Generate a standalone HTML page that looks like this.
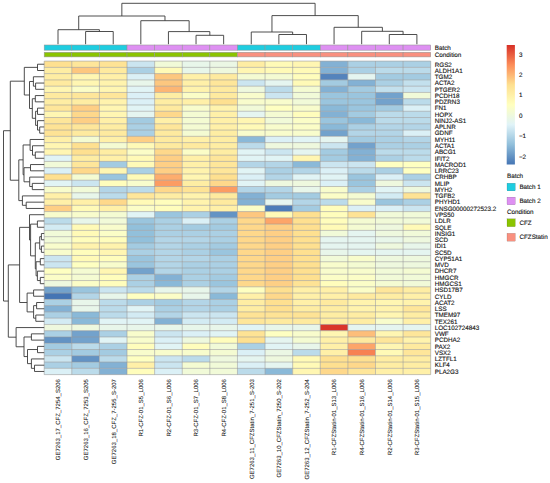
<!DOCTYPE html>
<html><head><meta charset="utf-8"><style>
html,body{margin:0;padding:0;background:#fff;width:550px;height:483px;overflow:hidden}
text{text-rendering:geometricPrecision}

</style></head><body>
<svg width="550" height="483" viewBox="0 0 550 483" style="display:block">
<rect x="44.20" y="61.10" width="27.61" height="6.27" fill="#FEE090"/>
<rect x="71.81" y="61.10" width="27.61" height="6.27" fill="#FEE69A"/>
<rect x="99.41" y="61.10" width="27.61" height="6.27" fill="#FEE395"/>
<rect x="127.02" y="61.10" width="27.61" height="6.27" fill="#CBE5F0"/>
<rect x="154.63" y="61.10" width="27.61" height="6.27" fill="#F1FAD8"/>
<rect x="182.24" y="61.10" width="27.61" height="6.27" fill="#E8F6EA"/>
<rect x="209.84" y="61.10" width="27.61" height="6.27" fill="#EBF7E4"/>
<rect x="237.45" y="61.10" width="27.61" height="6.27" fill="#FEEDA3"/>
<rect x="265.06" y="61.10" width="27.61" height="6.27" fill="#FFFAB7"/>
<rect x="292.66" y="61.10" width="27.61" height="6.27" fill="#FFF6B2"/>
<rect x="320.27" y="61.10" width="27.61" height="6.27" fill="#83B1D4"/>
<rect x="347.88" y="61.10" width="27.61" height="6.27" fill="#ABD0E4"/>
<rect x="375.49" y="61.10" width="27.61" height="6.27" fill="#ABD0E4"/>
<rect x="403.09" y="61.10" width="27.61" height="6.27" fill="#ABD0E4"/>
<rect x="44.20" y="67.37" width="27.61" height="6.27" fill="#FEEDA3"/>
<rect x="71.81" y="67.37" width="27.61" height="6.27" fill="#FDC77F"/>
<rect x="99.41" y="67.37" width="27.61" height="6.27" fill="#FEEA9F"/>
<rect x="127.02" y="67.37" width="27.61" height="6.27" fill="#ABD0E4"/>
<rect x="154.63" y="67.37" width="27.61" height="6.27" fill="#FFFAB7"/>
<rect x="182.24" y="67.37" width="27.61" height="6.27" fill="#E8F6EA"/>
<rect x="209.84" y="67.37" width="27.61" height="6.27" fill="#EEF8DE"/>
<rect x="237.45" y="67.37" width="27.61" height="6.27" fill="#FFF6B2"/>
<rect x="265.06" y="67.37" width="27.61" height="6.27" fill="#FFFAB7"/>
<rect x="292.66" y="67.37" width="27.61" height="6.27" fill="#FFFAB7"/>
<rect x="320.27" y="67.37" width="27.61" height="6.27" fill="#83B1D4"/>
<rect x="347.88" y="67.37" width="27.61" height="6.27" fill="#ABD0E4"/>
<rect x="375.49" y="67.37" width="27.61" height="6.27" fill="#BBDBEA"/>
<rect x="403.09" y="67.37" width="27.61" height="6.27" fill="#BBDBEA"/>
<rect x="44.20" y="73.64" width="27.61" height="6.27" fill="#FEEDA3"/>
<rect x="71.81" y="73.64" width="27.61" height="6.27" fill="#FFF6B2"/>
<rect x="99.41" y="73.64" width="27.61" height="6.27" fill="#FFF0A8"/>
<rect x="127.02" y="73.64" width="27.61" height="6.27" fill="#DBF0F6"/>
<rect x="154.63" y="73.64" width="27.61" height="6.27" fill="#FDC77F"/>
<rect x="182.24" y="73.64" width="27.61" height="6.27" fill="#FFF0A8"/>
<rect x="209.84" y="73.64" width="27.61" height="6.27" fill="#FEEA9F"/>
<rect x="237.45" y="73.64" width="27.61" height="6.27" fill="#F4FBD2"/>
<rect x="265.06" y="73.64" width="27.61" height="6.27" fill="#F4FBD2"/>
<rect x="292.66" y="73.64" width="27.61" height="6.27" fill="#FFFDBC"/>
<rect x="320.27" y="73.64" width="27.61" height="6.27" fill="#5483BC"/>
<rect x="347.88" y="73.64" width="27.61" height="6.27" fill="#E5F5F0"/>
<rect x="375.49" y="73.64" width="27.61" height="6.27" fill="#A3CBE1"/>
<rect x="403.09" y="73.64" width="27.61" height="6.27" fill="#A3CBE1"/>
<rect x="44.20" y="79.91" width="27.61" height="6.27" fill="#FEEA9F"/>
<rect x="71.81" y="79.91" width="27.61" height="6.27" fill="#FFF6B2"/>
<rect x="99.41" y="79.91" width="27.61" height="6.27" fill="#FFF3AD"/>
<rect x="127.02" y="79.91" width="27.61" height="6.27" fill="#E8F6EA"/>
<rect x="154.63" y="79.91" width="27.61" height="6.27" fill="#FDC77F"/>
<rect x="182.24" y="79.91" width="27.61" height="6.27" fill="#FFF0A8"/>
<rect x="209.84" y="79.91" width="27.61" height="6.27" fill="#FEE69A"/>
<rect x="237.45" y="79.91" width="27.61" height="6.27" fill="#CBE5F0"/>
<rect x="265.06" y="79.91" width="27.61" height="6.27" fill="#E5F5F0"/>
<rect x="292.66" y="79.91" width="27.61" height="6.27" fill="#FFFAB7"/>
<rect x="320.27" y="79.91" width="27.61" height="6.27" fill="#A3CBE1"/>
<rect x="347.88" y="79.91" width="27.61" height="6.27" fill="#83B1D4"/>
<rect x="375.49" y="79.91" width="27.61" height="6.27" fill="#ABD0E4"/>
<rect x="403.09" y="79.91" width="27.61" height="6.27" fill="#C3E0ED"/>
<rect x="44.20" y="86.18" width="27.61" height="6.27" fill="#FFF6B2"/>
<rect x="71.81" y="86.18" width="27.61" height="6.27" fill="#FBFDC7"/>
<rect x="99.41" y="86.18" width="27.61" height="6.27" fill="#FFF6B2"/>
<rect x="127.02" y="86.18" width="27.61" height="6.27" fill="#E1F4F5"/>
<rect x="154.63" y="86.18" width="27.61" height="6.27" fill="#FDB674"/>
<rect x="182.24" y="86.18" width="27.61" height="6.27" fill="#FFF3AD"/>
<rect x="209.84" y="86.18" width="27.61" height="6.27" fill="#FEEA9F"/>
<rect x="237.45" y="86.18" width="27.61" height="6.27" fill="#EEF8DE"/>
<rect x="265.06" y="86.18" width="27.61" height="6.27" fill="#BBDBEA"/>
<rect x="292.66" y="86.18" width="27.61" height="6.27" fill="#F4FBD2"/>
<rect x="320.27" y="86.18" width="27.61" height="6.27" fill="#83B1D4"/>
<rect x="347.88" y="86.18" width="27.61" height="6.27" fill="#A3CBE1"/>
<rect x="375.49" y="86.18" width="27.61" height="6.27" fill="#C3E0ED"/>
<rect x="403.09" y="86.18" width="27.61" height="6.27" fill="#CBE5F0"/>
<rect x="44.20" y="92.45" width="27.61" height="6.27" fill="#FEEA9F"/>
<rect x="71.81" y="92.45" width="27.61" height="6.27" fill="#FEE69A"/>
<rect x="99.41" y="92.45" width="27.61" height="6.27" fill="#FEE69A"/>
<rect x="127.02" y="92.45" width="27.61" height="6.27" fill="#DBF0F6"/>
<rect x="154.63" y="92.45" width="27.61" height="6.27" fill="#FEEDA3"/>
<rect x="182.24" y="92.45" width="27.61" height="6.27" fill="#FBFDC7"/>
<rect x="209.84" y="92.45" width="27.61" height="6.27" fill="#FEEA9F"/>
<rect x="237.45" y="92.45" width="27.61" height="6.27" fill="#F8FCCC"/>
<rect x="265.06" y="92.45" width="27.61" height="6.27" fill="#CBE5F0"/>
<rect x="292.66" y="92.45" width="27.61" height="6.27" fill="#F1FAD8"/>
<rect x="320.27" y="92.45" width="27.61" height="6.27" fill="#9AC5DE"/>
<rect x="347.88" y="92.45" width="27.61" height="6.27" fill="#9AC5DE"/>
<rect x="375.49" y="92.45" width="27.61" height="6.27" fill="#73A2CC"/>
<rect x="403.09" y="92.45" width="27.61" height="6.27" fill="#F1FAD8"/>
<rect x="44.20" y="98.72" width="27.61" height="6.27" fill="#FEEDA3"/>
<rect x="71.81" y="98.72" width="27.61" height="6.27" fill="#FEEDA3"/>
<rect x="99.41" y="98.72" width="27.61" height="6.27" fill="#FFF3AD"/>
<rect x="127.02" y="98.72" width="27.61" height="6.27" fill="#DBF0F6"/>
<rect x="154.63" y="98.72" width="27.61" height="6.27" fill="#FEEDA3"/>
<rect x="182.24" y="98.72" width="27.61" height="6.27" fill="#FFF0A8"/>
<rect x="209.84" y="98.72" width="27.61" height="6.27" fill="#FEE090"/>
<rect x="237.45" y="98.72" width="27.61" height="6.27" fill="#F8FCCC"/>
<rect x="265.06" y="98.72" width="27.61" height="6.27" fill="#F8FCCC"/>
<rect x="292.66" y="98.72" width="27.61" height="6.27" fill="#F1FAD8"/>
<rect x="320.27" y="98.72" width="27.61" height="6.27" fill="#9AC5DE"/>
<rect x="347.88" y="98.72" width="27.61" height="6.27" fill="#9AC5DE"/>
<rect x="375.49" y="98.72" width="27.61" height="6.27" fill="#73A2CC"/>
<rect x="403.09" y="98.72" width="27.61" height="6.27" fill="#BBDBEA"/>
<rect x="44.20" y="104.99" width="27.61" height="6.27" fill="#FEE69A"/>
<rect x="71.81" y="104.99" width="27.61" height="6.27" fill="#FECF85"/>
<rect x="99.41" y="104.99" width="27.61" height="6.27" fill="#FFF6B2"/>
<rect x="127.02" y="104.99" width="27.61" height="6.27" fill="#E1F4F5"/>
<rect x="154.63" y="104.99" width="27.61" height="6.27" fill="#FEEA9F"/>
<rect x="182.24" y="104.99" width="27.61" height="6.27" fill="#F8FCCC"/>
<rect x="209.84" y="104.99" width="27.61" height="6.27" fill="#FFF3AD"/>
<rect x="237.45" y="104.99" width="27.61" height="6.27" fill="#F1FAD8"/>
<rect x="265.06" y="104.99" width="27.61" height="6.27" fill="#FEFFC1"/>
<rect x="292.66" y="104.99" width="27.61" height="6.27" fill="#F8FCCC"/>
<rect x="320.27" y="104.99" width="27.61" height="6.27" fill="#8AB9D8"/>
<rect x="347.88" y="104.99" width="27.61" height="6.27" fill="#9AC5DE"/>
<rect x="375.49" y="104.99" width="27.61" height="6.27" fill="#A3CBE1"/>
<rect x="403.09" y="104.99" width="27.61" height="6.27" fill="#DBF0F6"/>
<rect x="44.20" y="111.26" width="27.61" height="6.27" fill="#FFF6B2"/>
<rect x="71.81" y="111.26" width="27.61" height="6.27" fill="#FED88B"/>
<rect x="99.41" y="111.26" width="27.61" height="6.27" fill="#FFF6B2"/>
<rect x="127.02" y="111.26" width="27.61" height="6.27" fill="#E5F5F0"/>
<rect x="154.63" y="111.26" width="27.61" height="6.27" fill="#FED88B"/>
<rect x="182.24" y="111.26" width="27.61" height="6.27" fill="#F4FBD2"/>
<rect x="209.84" y="111.26" width="27.61" height="6.27" fill="#FFF0A8"/>
<rect x="237.45" y="111.26" width="27.61" height="6.27" fill="#E5F5F0"/>
<rect x="265.06" y="111.26" width="27.61" height="6.27" fill="#F4FBD2"/>
<rect x="292.66" y="111.26" width="27.61" height="6.27" fill="#FFFDBC"/>
<rect x="320.27" y="111.26" width="27.61" height="6.27" fill="#83B1D4"/>
<rect x="347.88" y="111.26" width="27.61" height="6.27" fill="#A3CBE1"/>
<rect x="375.49" y="111.26" width="27.61" height="6.27" fill="#BBDBEA"/>
<rect x="403.09" y="111.26" width="27.61" height="6.27" fill="#BBDBEA"/>
<rect x="44.20" y="117.53" width="27.61" height="6.27" fill="#FEE69A"/>
<rect x="71.81" y="117.53" width="27.61" height="6.27" fill="#FECF85"/>
<rect x="99.41" y="117.53" width="27.61" height="6.27" fill="#FFF0A8"/>
<rect x="127.02" y="117.53" width="27.61" height="6.27" fill="#A3CBE1"/>
<rect x="154.63" y="117.53" width="27.61" height="6.27" fill="#FFF0A8"/>
<rect x="182.24" y="117.53" width="27.61" height="6.27" fill="#F4FBD2"/>
<rect x="209.84" y="117.53" width="27.61" height="6.27" fill="#FFF0A8"/>
<rect x="237.45" y="117.53" width="27.61" height="6.27" fill="#FFF6B2"/>
<rect x="265.06" y="117.53" width="27.61" height="6.27" fill="#F1FAD8"/>
<rect x="292.66" y="117.53" width="27.61" height="6.27" fill="#FBFDC7"/>
<rect x="320.27" y="117.53" width="27.61" height="6.27" fill="#9AC5DE"/>
<rect x="347.88" y="117.53" width="27.61" height="6.27" fill="#8AB9D8"/>
<rect x="375.49" y="117.53" width="27.61" height="6.27" fill="#BBDBEA"/>
<rect x="403.09" y="117.53" width="27.61" height="6.27" fill="#BBDBEA"/>
<rect x="44.20" y="123.80" width="27.61" height="6.27" fill="#FEE395"/>
<rect x="71.81" y="123.80" width="27.61" height="6.27" fill="#FEE69A"/>
<rect x="99.41" y="123.80" width="27.61" height="6.27" fill="#FEEDA3"/>
<rect x="127.02" y="123.80" width="27.61" height="6.27" fill="#ABD0E4"/>
<rect x="154.63" y="123.80" width="27.61" height="6.27" fill="#FEE69A"/>
<rect x="182.24" y="123.80" width="27.61" height="6.27" fill="#F4FBD2"/>
<rect x="209.84" y="123.80" width="27.61" height="6.27" fill="#FFF0A8"/>
<rect x="237.45" y="123.80" width="27.61" height="6.27" fill="#FFFAB7"/>
<rect x="265.06" y="123.80" width="27.61" height="6.27" fill="#F8FCCC"/>
<rect x="292.66" y="123.80" width="27.61" height="6.27" fill="#FBFDC7"/>
<rect x="320.27" y="123.80" width="27.61" height="6.27" fill="#8AB9D8"/>
<rect x="347.88" y="123.80" width="27.61" height="6.27" fill="#ABD0E4"/>
<rect x="375.49" y="123.80" width="27.61" height="6.27" fill="#B3D5E7"/>
<rect x="403.09" y="123.80" width="27.61" height="6.27" fill="#B3D5E7"/>
<rect x="44.20" y="130.07" width="27.61" height="6.27" fill="#FEE395"/>
<rect x="71.81" y="130.07" width="27.61" height="6.27" fill="#FEEA9F"/>
<rect x="99.41" y="130.07" width="27.61" height="6.27" fill="#FEEA9F"/>
<rect x="127.02" y="130.07" width="27.61" height="6.27" fill="#ABD0E4"/>
<rect x="154.63" y="130.07" width="27.61" height="6.27" fill="#FEEA9F"/>
<rect x="182.24" y="130.07" width="27.61" height="6.27" fill="#F4FBD2"/>
<rect x="209.84" y="130.07" width="27.61" height="6.27" fill="#FEEDA3"/>
<rect x="237.45" y="130.07" width="27.61" height="6.27" fill="#F8FCCC"/>
<rect x="265.06" y="130.07" width="27.61" height="6.27" fill="#F8FCCC"/>
<rect x="292.66" y="130.07" width="27.61" height="6.27" fill="#F8FCCC"/>
<rect x="320.27" y="130.07" width="27.61" height="6.27" fill="#73A2CC"/>
<rect x="347.88" y="130.07" width="27.61" height="6.27" fill="#B3D5E7"/>
<rect x="375.49" y="130.07" width="27.61" height="6.27" fill="#B3D5E7"/>
<rect x="403.09" y="130.07" width="27.61" height="6.27" fill="#DBF0F6"/>
<rect x="44.20" y="136.34" width="27.61" height="6.27" fill="#FFF0A8"/>
<rect x="71.81" y="136.34" width="27.61" height="6.27" fill="#F4FBD2"/>
<rect x="99.41" y="136.34" width="27.61" height="6.27" fill="#FFF0A8"/>
<rect x="127.02" y="136.34" width="27.61" height="6.27" fill="#FECF85"/>
<rect x="154.63" y="136.34" width="27.61" height="6.27" fill="#FEEA9F"/>
<rect x="182.24" y="136.34" width="27.61" height="6.27" fill="#FFF0A8"/>
<rect x="209.84" y="136.34" width="27.61" height="6.27" fill="#FEEDA3"/>
<rect x="237.45" y="136.34" width="27.61" height="6.27" fill="#8AB9D8"/>
<rect x="265.06" y="136.34" width="27.61" height="6.27" fill="#DBF0F6"/>
<rect x="292.66" y="136.34" width="27.61" height="6.27" fill="#E1F4F5"/>
<rect x="320.27" y="136.34" width="27.61" height="6.27" fill="#E5F5F0"/>
<rect x="347.88" y="136.34" width="27.61" height="6.27" fill="#A3CBE1"/>
<rect x="375.49" y="136.34" width="27.61" height="6.27" fill="#ABD0E4"/>
<rect x="403.09" y="136.34" width="27.61" height="6.27" fill="#B3D5E7"/>
<rect x="44.20" y="142.61" width="27.61" height="6.27" fill="#FFF6B2"/>
<rect x="71.81" y="142.61" width="27.61" height="6.27" fill="#FEE090"/>
<rect x="99.41" y="142.61" width="27.61" height="6.27" fill="#F4FBD2"/>
<rect x="127.02" y="142.61" width="27.61" height="6.27" fill="#FFFAB7"/>
<rect x="154.63" y="142.61" width="27.61" height="6.27" fill="#FEEA9F"/>
<rect x="182.24" y="142.61" width="27.61" height="6.27" fill="#FEEA9F"/>
<rect x="209.84" y="142.61" width="27.61" height="6.27" fill="#FEEDA3"/>
<rect x="237.45" y="142.61" width="27.61" height="6.27" fill="#BBDBEA"/>
<rect x="265.06" y="142.61" width="27.61" height="6.27" fill="#EEF8DE"/>
<rect x="292.66" y="142.61" width="27.61" height="6.27" fill="#EEF8DE"/>
<rect x="320.27" y="142.61" width="27.61" height="6.27" fill="#CBE5F0"/>
<rect x="347.88" y="142.61" width="27.61" height="6.27" fill="#73A2CC"/>
<rect x="375.49" y="142.61" width="27.61" height="6.27" fill="#ABD0E4"/>
<rect x="403.09" y="142.61" width="27.61" height="6.27" fill="#ABD0E4"/>
<rect x="44.20" y="148.88" width="27.61" height="6.27" fill="#FFF6B2"/>
<rect x="71.81" y="148.88" width="27.61" height="6.27" fill="#FEE090"/>
<rect x="99.41" y="148.88" width="27.61" height="6.27" fill="#FEEDA3"/>
<rect x="127.02" y="148.88" width="27.61" height="6.27" fill="#FBFDC7"/>
<rect x="154.63" y="148.88" width="27.61" height="6.27" fill="#FED88B"/>
<rect x="182.24" y="148.88" width="27.61" height="6.27" fill="#FBFDC7"/>
<rect x="209.84" y="148.88" width="27.61" height="6.27" fill="#FEEDA3"/>
<rect x="237.45" y="148.88" width="27.61" height="6.27" fill="#E1F4F5"/>
<rect x="265.06" y="148.88" width="27.61" height="6.27" fill="#CBE5F0"/>
<rect x="292.66" y="148.88" width="27.61" height="6.27" fill="#E5F5F0"/>
<rect x="320.27" y="148.88" width="27.61" height="6.27" fill="#A3CBE1"/>
<rect x="347.88" y="148.88" width="27.61" height="6.27" fill="#83B1D4"/>
<rect x="375.49" y="148.88" width="27.61" height="6.27" fill="#BBDBEA"/>
<rect x="403.09" y="148.88" width="27.61" height="6.27" fill="#BBDBEA"/>
<rect x="44.20" y="155.15" width="27.61" height="6.27" fill="#E1F4F5"/>
<rect x="71.81" y="155.15" width="27.61" height="6.27" fill="#FEEDA3"/>
<rect x="99.41" y="155.15" width="27.61" height="6.27" fill="#FFF0A8"/>
<rect x="127.02" y="155.15" width="27.61" height="6.27" fill="#FFFAB7"/>
<rect x="154.63" y="155.15" width="27.61" height="6.27" fill="#FECF85"/>
<rect x="182.24" y="155.15" width="27.61" height="6.27" fill="#FFF0A8"/>
<rect x="209.84" y="155.15" width="27.61" height="6.27" fill="#FEE69A"/>
<rect x="237.45" y="155.15" width="27.61" height="6.27" fill="#E1F4F5"/>
<rect x="265.06" y="155.15" width="27.61" height="6.27" fill="#E1F4F5"/>
<rect x="292.66" y="155.15" width="27.61" height="6.27" fill="#FFF6B2"/>
<rect x="320.27" y="155.15" width="27.61" height="6.27" fill="#A3CBE1"/>
<rect x="347.88" y="155.15" width="27.61" height="6.27" fill="#83B1D4"/>
<rect x="375.49" y="155.15" width="27.61" height="6.27" fill="#ABD0E4"/>
<rect x="403.09" y="155.15" width="27.61" height="6.27" fill="#BBDBEA"/>
<rect x="44.20" y="161.42" width="27.61" height="6.27" fill="#F1FAD8"/>
<rect x="71.81" y="161.42" width="27.61" height="6.27" fill="#FEE69A"/>
<rect x="99.41" y="161.42" width="27.61" height="6.27" fill="#A3CBE1"/>
<rect x="127.02" y="161.42" width="27.61" height="6.27" fill="#FFFAB7"/>
<rect x="154.63" y="161.42" width="27.61" height="6.27" fill="#FECF85"/>
<rect x="182.24" y="161.42" width="27.61" height="6.27" fill="#FFF0A8"/>
<rect x="209.84" y="161.42" width="27.61" height="6.27" fill="#FEE69A"/>
<rect x="237.45" y="161.42" width="27.61" height="6.27" fill="#B3D5E7"/>
<rect x="265.06" y="161.42" width="27.61" height="6.27" fill="#B3D5E7"/>
<rect x="292.66" y="161.42" width="27.61" height="6.27" fill="#8AB9D8"/>
<rect x="320.27" y="161.42" width="27.61" height="6.27" fill="#CBE5F0"/>
<rect x="347.88" y="161.42" width="27.61" height="6.27" fill="#CBE5F0"/>
<rect x="375.49" y="161.42" width="27.61" height="6.27" fill="#FEFFC1"/>
<rect x="403.09" y="161.42" width="27.61" height="6.27" fill="#FEFFC1"/>
<rect x="44.20" y="167.69" width="27.61" height="6.27" fill="#DBF0F6"/>
<rect x="71.81" y="167.69" width="27.61" height="6.27" fill="#FED88B"/>
<rect x="99.41" y="167.69" width="27.61" height="6.27" fill="#FFF6B2"/>
<rect x="127.02" y="167.69" width="27.61" height="6.27" fill="#ABD0E4"/>
<rect x="154.63" y="167.69" width="27.61" height="6.27" fill="#FECF85"/>
<rect x="182.24" y="167.69" width="27.61" height="6.27" fill="#FFF3AD"/>
<rect x="209.84" y="167.69" width="27.61" height="6.27" fill="#FEE69A"/>
<rect x="237.45" y="167.69" width="27.61" height="6.27" fill="#E1F4F5"/>
<rect x="265.06" y="167.69" width="27.61" height="6.27" fill="#ABD0E4"/>
<rect x="292.66" y="167.69" width="27.61" height="6.27" fill="#B3D5E7"/>
<rect x="320.27" y="167.69" width="27.61" height="6.27" fill="#DBF0F6"/>
<rect x="347.88" y="167.69" width="27.61" height="6.27" fill="#BBDBEA"/>
<rect x="375.49" y="167.69" width="27.61" height="6.27" fill="#ABD0E4"/>
<rect x="403.09" y="167.69" width="27.61" height="6.27" fill="#FEFFC1"/>
<rect x="44.20" y="173.96" width="27.61" height="6.27" fill="#FEE090"/>
<rect x="71.81" y="173.96" width="27.61" height="6.27" fill="#F4FBD2"/>
<rect x="99.41" y="173.96" width="27.61" height="6.27" fill="#9AC5DE"/>
<rect x="127.02" y="173.96" width="27.61" height="6.27" fill="#FFFAB7"/>
<rect x="154.63" y="173.96" width="27.61" height="6.27" fill="#FDAD6E"/>
<rect x="182.24" y="173.96" width="27.61" height="6.27" fill="#FFF6B2"/>
<rect x="209.84" y="173.96" width="27.61" height="6.27" fill="#FEE090"/>
<rect x="237.45" y="173.96" width="27.61" height="6.27" fill="#DBF0F6"/>
<rect x="265.06" y="173.96" width="27.61" height="6.27" fill="#B3D5E7"/>
<rect x="292.66" y="173.96" width="27.61" height="6.27" fill="#E1F4F5"/>
<rect x="320.27" y="173.96" width="27.61" height="6.27" fill="#E1F4F5"/>
<rect x="347.88" y="173.96" width="27.61" height="6.27" fill="#9AC5DE"/>
<rect x="375.49" y="173.96" width="27.61" height="6.27" fill="#DBF0F6"/>
<rect x="403.09" y="173.96" width="27.61" height="6.27" fill="#ABD0E4"/>
<rect x="44.20" y="180.23" width="27.61" height="6.27" fill="#E1F4F5"/>
<rect x="71.81" y="180.23" width="27.61" height="6.27" fill="#CBE5F0"/>
<rect x="99.41" y="180.23" width="27.61" height="6.27" fill="#FFFDBC"/>
<rect x="127.02" y="180.23" width="27.61" height="6.27" fill="#F8FCCC"/>
<rect x="154.63" y="180.23" width="27.61" height="6.27" fill="#FC9C63"/>
<rect x="182.24" y="180.23" width="27.61" height="6.27" fill="#FEEDA3"/>
<rect x="209.84" y="180.23" width="27.61" height="6.27" fill="#FED88B"/>
<rect x="237.45" y="180.23" width="27.61" height="6.27" fill="#E1F4F5"/>
<rect x="265.06" y="180.23" width="27.61" height="6.27" fill="#EEF8DE"/>
<rect x="292.66" y="180.23" width="27.61" height="6.27" fill="#EEF8DE"/>
<rect x="320.27" y="180.23" width="27.61" height="6.27" fill="#DBF0F6"/>
<rect x="347.88" y="180.23" width="27.61" height="6.27" fill="#9AC5DE"/>
<rect x="375.49" y="180.23" width="27.61" height="6.27" fill="#EEF8DE"/>
<rect x="403.09" y="180.23" width="27.61" height="6.27" fill="#CBE5F0"/>
<rect x="44.20" y="186.50" width="27.61" height="6.27" fill="#F8FCCC"/>
<rect x="71.81" y="186.50" width="27.61" height="6.27" fill="#F1FAD8"/>
<rect x="99.41" y="186.50" width="27.61" height="6.27" fill="#B3D5E7"/>
<rect x="127.02" y="186.50" width="27.61" height="6.27" fill="#BBDBEA"/>
<rect x="154.63" y="186.50" width="27.61" height="6.27" fill="#FED88B"/>
<rect x="182.24" y="186.50" width="27.61" height="6.27" fill="#FEE395"/>
<rect x="209.84" y="186.50" width="27.61" height="6.27" fill="#FC9C63"/>
<rect x="237.45" y="186.50" width="27.61" height="6.27" fill="#B3D5E7"/>
<rect x="265.06" y="186.50" width="27.61" height="6.27" fill="#B3D5E7"/>
<rect x="292.66" y="186.50" width="27.61" height="6.27" fill="#E8F6EA"/>
<rect x="320.27" y="186.50" width="27.61" height="6.27" fill="#F8FCCC"/>
<rect x="347.88" y="186.50" width="27.61" height="6.27" fill="#ABD0E4"/>
<rect x="375.49" y="186.50" width="27.61" height="6.27" fill="#E1F4F5"/>
<rect x="403.09" y="186.50" width="27.61" height="6.27" fill="#EEF8DE"/>
<rect x="44.20" y="192.77" width="27.61" height="6.27" fill="#FFF0A8"/>
<rect x="71.81" y="192.77" width="27.61" height="6.27" fill="#E8F6EA"/>
<rect x="99.41" y="192.77" width="27.61" height="6.27" fill="#BBDBEA"/>
<rect x="127.02" y="192.77" width="27.61" height="6.27" fill="#FEE69A"/>
<rect x="154.63" y="192.77" width="27.61" height="6.27" fill="#FEEDA3"/>
<rect x="182.24" y="192.77" width="27.61" height="6.27" fill="#FFF3AD"/>
<rect x="209.84" y="192.77" width="27.61" height="6.27" fill="#FEEA9F"/>
<rect x="237.45" y="192.77" width="27.61" height="6.27" fill="#83B1D4"/>
<rect x="265.06" y="192.77" width="27.61" height="6.27" fill="#A3CBE1"/>
<rect x="292.66" y="192.77" width="27.61" height="6.27" fill="#A3CBE1"/>
<rect x="320.27" y="192.77" width="27.61" height="6.27" fill="#FBFDC7"/>
<rect x="347.88" y="192.77" width="27.61" height="6.27" fill="#F4FBD2"/>
<rect x="375.49" y="192.77" width="27.61" height="6.27" fill="#D3EBF3"/>
<rect x="403.09" y="192.77" width="27.61" height="6.27" fill="#FEE395"/>
<rect x="44.20" y="199.04" width="27.61" height="6.27" fill="#FFF0A8"/>
<rect x="71.81" y="199.04" width="27.61" height="6.27" fill="#FFF0A8"/>
<rect x="99.41" y="199.04" width="27.61" height="6.27" fill="#FED88B"/>
<rect x="127.02" y="199.04" width="27.61" height="6.27" fill="#FFFAB7"/>
<rect x="154.63" y="199.04" width="27.61" height="6.27" fill="#FFFDBC"/>
<rect x="182.24" y="199.04" width="27.61" height="6.27" fill="#FFF3AD"/>
<rect x="209.84" y="199.04" width="27.61" height="6.27" fill="#FEEA9F"/>
<rect x="237.45" y="199.04" width="27.61" height="6.27" fill="#83B1D4"/>
<rect x="265.06" y="199.04" width="27.61" height="6.27" fill="#E5F5F0"/>
<rect x="292.66" y="199.04" width="27.61" height="6.27" fill="#B3D5E7"/>
<rect x="320.27" y="199.04" width="27.61" height="6.27" fill="#BBDBEA"/>
<rect x="347.88" y="199.04" width="27.61" height="6.27" fill="#F8FCCC"/>
<rect x="375.49" y="199.04" width="27.61" height="6.27" fill="#9AC5DE"/>
<rect x="403.09" y="199.04" width="27.61" height="6.27" fill="#ABD0E4"/>
<rect x="44.20" y="205.31" width="27.61" height="6.27" fill="#FECF85"/>
<rect x="71.81" y="205.31" width="27.61" height="6.27" fill="#FFFAB7"/>
<rect x="99.41" y="205.31" width="27.61" height="6.27" fill="#FFF0A8"/>
<rect x="127.02" y="205.31" width="27.61" height="6.27" fill="#FBFDC7"/>
<rect x="154.63" y="205.31" width="27.61" height="6.27" fill="#FFFDBC"/>
<rect x="182.24" y="205.31" width="27.61" height="6.27" fill="#FFF3AD"/>
<rect x="209.84" y="205.31" width="27.61" height="6.27" fill="#FFF0A8"/>
<rect x="237.45" y="205.31" width="27.61" height="6.27" fill="#FBFDC7"/>
<rect x="265.06" y="205.31" width="27.61" height="6.27" fill="#4C7CB8"/>
<rect x="292.66" y="205.31" width="27.61" height="6.27" fill="#A3CBE1"/>
<rect x="320.27" y="205.31" width="27.61" height="6.27" fill="#FFFDBC"/>
<rect x="347.88" y="205.31" width="27.61" height="6.27" fill="#DBF0F6"/>
<rect x="375.49" y="205.31" width="27.61" height="6.27" fill="#DBF0F6"/>
<rect x="403.09" y="205.31" width="27.61" height="6.27" fill="#CBE5F0"/>
<rect x="44.20" y="211.58" width="27.61" height="6.27" fill="#F8FCCC"/>
<rect x="71.81" y="211.58" width="27.61" height="6.27" fill="#F8FCCC"/>
<rect x="99.41" y="211.58" width="27.61" height="6.27" fill="#F4FBD2"/>
<rect x="127.02" y="211.58" width="27.61" height="6.27" fill="#E1F4F5"/>
<rect x="154.63" y="211.58" width="27.61" height="6.27" fill="#9AC5DE"/>
<rect x="182.24" y="211.58" width="27.61" height="6.27" fill="#ABD0E4"/>
<rect x="209.84" y="211.58" width="27.61" height="6.27" fill="#6393C4"/>
<rect x="237.45" y="211.58" width="27.61" height="6.27" fill="#FDC77F"/>
<rect x="265.06" y="211.58" width="27.61" height="6.27" fill="#FFFAB7"/>
<rect x="292.66" y="211.58" width="27.61" height="6.27" fill="#FEE090"/>
<rect x="320.27" y="211.58" width="27.61" height="6.27" fill="#FFFDBC"/>
<rect x="347.88" y="211.58" width="27.61" height="6.27" fill="#FEE395"/>
<rect x="375.49" y="211.58" width="27.61" height="6.27" fill="#F1FAD8"/>
<rect x="403.09" y="211.58" width="27.61" height="6.27" fill="#F1FAD8"/>
<rect x="44.20" y="217.85" width="27.61" height="6.27" fill="#BBDBEA"/>
<rect x="71.81" y="217.85" width="27.61" height="6.27" fill="#E8F6EA"/>
<rect x="99.41" y="217.85" width="27.61" height="6.27" fill="#F1FAD8"/>
<rect x="127.02" y="217.85" width="27.61" height="6.27" fill="#9AC5DE"/>
<rect x="154.63" y="217.85" width="27.61" height="6.27" fill="#ABD0E4"/>
<rect x="182.24" y="217.85" width="27.61" height="6.27" fill="#DBF0F6"/>
<rect x="209.84" y="217.85" width="27.61" height="6.27" fill="#ABD0E4"/>
<rect x="237.45" y="217.85" width="27.61" height="6.27" fill="#FED88B"/>
<rect x="265.06" y="217.85" width="27.61" height="6.27" fill="#FDA569"/>
<rect x="292.66" y="217.85" width="27.61" height="6.27" fill="#FEE090"/>
<rect x="320.27" y="217.85" width="27.61" height="6.27" fill="#FFFDBC"/>
<rect x="347.88" y="217.85" width="27.61" height="6.27" fill="#F4FBD2"/>
<rect x="375.49" y="217.85" width="27.61" height="6.27" fill="#F1FAD8"/>
<rect x="403.09" y="217.85" width="27.61" height="6.27" fill="#F1FAD8"/>
<rect x="44.20" y="224.12" width="27.61" height="6.27" fill="#D3EBF3"/>
<rect x="71.81" y="224.12" width="27.61" height="6.27" fill="#FFFAB7"/>
<rect x="99.41" y="224.12" width="27.61" height="6.27" fill="#F8FCCC"/>
<rect x="127.02" y="224.12" width="27.61" height="6.27" fill="#92C0DB"/>
<rect x="154.63" y="224.12" width="27.61" height="6.27" fill="#ABD0E4"/>
<rect x="182.24" y="224.12" width="27.61" height="6.27" fill="#A3CBE1"/>
<rect x="209.84" y="224.12" width="27.61" height="6.27" fill="#A3CBE1"/>
<rect x="237.45" y="224.12" width="27.61" height="6.27" fill="#FED88B"/>
<rect x="265.06" y="224.12" width="27.61" height="6.27" fill="#FECF85"/>
<rect x="292.66" y="224.12" width="27.61" height="6.27" fill="#FEE090"/>
<rect x="320.27" y="224.12" width="27.61" height="6.27" fill="#FFFAB7"/>
<rect x="347.88" y="224.12" width="27.61" height="6.27" fill="#F4FBD2"/>
<rect x="375.49" y="224.12" width="27.61" height="6.27" fill="#EEF8DE"/>
<rect x="403.09" y="224.12" width="27.61" height="6.27" fill="#FFFAB7"/>
<rect x="44.20" y="230.39" width="27.61" height="6.27" fill="#F1FAD8"/>
<rect x="71.81" y="230.39" width="27.61" height="6.27" fill="#FFFAB7"/>
<rect x="99.41" y="230.39" width="27.61" height="6.27" fill="#FBFDC7"/>
<rect x="127.02" y="230.39" width="27.61" height="6.27" fill="#92C0DB"/>
<rect x="154.63" y="230.39" width="27.61" height="6.27" fill="#ABD0E4"/>
<rect x="182.24" y="230.39" width="27.61" height="6.27" fill="#ABD0E4"/>
<rect x="209.84" y="230.39" width="27.61" height="6.27" fill="#ABD0E4"/>
<rect x="237.45" y="230.39" width="27.61" height="6.27" fill="#FED88B"/>
<rect x="265.06" y="230.39" width="27.61" height="6.27" fill="#FECF85"/>
<rect x="292.66" y="230.39" width="27.61" height="6.27" fill="#FEE090"/>
<rect x="320.27" y="230.39" width="27.61" height="6.27" fill="#F1FAD8"/>
<rect x="347.88" y="230.39" width="27.61" height="6.27" fill="#E5F5F0"/>
<rect x="375.49" y="230.39" width="27.61" height="6.27" fill="#EEF8DE"/>
<rect x="403.09" y="230.39" width="27.61" height="6.27" fill="#F1FAD8"/>
<rect x="44.20" y="236.66" width="27.61" height="6.27" fill="#F1FAD8"/>
<rect x="71.81" y="236.66" width="27.61" height="6.27" fill="#FFFDBC"/>
<rect x="99.41" y="236.66" width="27.61" height="6.27" fill="#FFFDBC"/>
<rect x="127.02" y="236.66" width="27.61" height="6.27" fill="#92C0DB"/>
<rect x="154.63" y="236.66" width="27.61" height="6.27" fill="#B3D5E7"/>
<rect x="182.24" y="236.66" width="27.61" height="6.27" fill="#B3D5E7"/>
<rect x="209.84" y="236.66" width="27.61" height="6.27" fill="#ABD0E4"/>
<rect x="237.45" y="236.66" width="27.61" height="6.27" fill="#FED88B"/>
<rect x="265.06" y="236.66" width="27.61" height="6.27" fill="#FECF85"/>
<rect x="292.66" y="236.66" width="27.61" height="6.27" fill="#FEE090"/>
<rect x="320.27" y="236.66" width="27.61" height="6.27" fill="#E5F5F0"/>
<rect x="347.88" y="236.66" width="27.61" height="6.27" fill="#E5F5F0"/>
<rect x="375.49" y="236.66" width="27.61" height="6.27" fill="#E8F6EA"/>
<rect x="403.09" y="236.66" width="27.61" height="6.27" fill="#EEF8DE"/>
<rect x="44.20" y="242.93" width="27.61" height="6.27" fill="#F8FCCC"/>
<rect x="71.81" y="242.93" width="27.61" height="6.27" fill="#FFF3AD"/>
<rect x="99.41" y="242.93" width="27.61" height="6.27" fill="#FFF3AD"/>
<rect x="127.02" y="242.93" width="27.61" height="6.27" fill="#A3CBE1"/>
<rect x="154.63" y="242.93" width="27.61" height="6.27" fill="#B3D5E7"/>
<rect x="182.24" y="242.93" width="27.61" height="6.27" fill="#ABD0E4"/>
<rect x="209.84" y="242.93" width="27.61" height="6.27" fill="#A3CBE1"/>
<rect x="237.45" y="242.93" width="27.61" height="6.27" fill="#FED88B"/>
<rect x="265.06" y="242.93" width="27.61" height="6.27" fill="#FECF85"/>
<rect x="292.66" y="242.93" width="27.61" height="6.27" fill="#FEE090"/>
<rect x="320.27" y="242.93" width="27.61" height="6.27" fill="#E5F5F0"/>
<rect x="347.88" y="242.93" width="27.61" height="6.27" fill="#E5F5F0"/>
<rect x="375.49" y="242.93" width="27.61" height="6.27" fill="#EEF8DE"/>
<rect x="403.09" y="242.93" width="27.61" height="6.27" fill="#E8F6EA"/>
<rect x="44.20" y="249.20" width="27.61" height="6.27" fill="#F8FCCC"/>
<rect x="71.81" y="249.20" width="27.61" height="6.27" fill="#FFFDBC"/>
<rect x="99.41" y="249.20" width="27.61" height="6.27" fill="#FFF6B2"/>
<rect x="127.02" y="249.20" width="27.61" height="6.27" fill="#ABD0E4"/>
<rect x="154.63" y="249.20" width="27.61" height="6.27" fill="#B3D5E7"/>
<rect x="182.24" y="249.20" width="27.61" height="6.27" fill="#ABD0E4"/>
<rect x="209.84" y="249.20" width="27.61" height="6.27" fill="#9AC5DE"/>
<rect x="237.45" y="249.20" width="27.61" height="6.27" fill="#FED88B"/>
<rect x="265.06" y="249.20" width="27.61" height="6.27" fill="#FECF85"/>
<rect x="292.66" y="249.20" width="27.61" height="6.27" fill="#FEE090"/>
<rect x="320.27" y="249.20" width="27.61" height="6.27" fill="#E8F6EA"/>
<rect x="347.88" y="249.20" width="27.61" height="6.27" fill="#E5F5F0"/>
<rect x="375.49" y="249.20" width="27.61" height="6.27" fill="#E5F5F0"/>
<rect x="403.09" y="249.20" width="27.61" height="6.27" fill="#E5F5F0"/>
<rect x="44.20" y="255.47" width="27.61" height="6.27" fill="#CBE5F0"/>
<rect x="71.81" y="255.47" width="27.61" height="6.27" fill="#FFFAB7"/>
<rect x="99.41" y="255.47" width="27.61" height="6.27" fill="#FFFDBC"/>
<rect x="127.02" y="255.47" width="27.61" height="6.27" fill="#9AC5DE"/>
<rect x="154.63" y="255.47" width="27.61" height="6.27" fill="#B3D5E7"/>
<rect x="182.24" y="255.47" width="27.61" height="6.27" fill="#B3D5E7"/>
<rect x="209.84" y="255.47" width="27.61" height="6.27" fill="#ABD0E4"/>
<rect x="237.45" y="255.47" width="27.61" height="6.27" fill="#FED88B"/>
<rect x="265.06" y="255.47" width="27.61" height="6.27" fill="#FECF85"/>
<rect x="292.66" y="255.47" width="27.61" height="6.27" fill="#FEE090"/>
<rect x="320.27" y="255.47" width="27.61" height="6.27" fill="#F1FAD8"/>
<rect x="347.88" y="255.47" width="27.61" height="6.27" fill="#F8FCCC"/>
<rect x="375.49" y="255.47" width="27.61" height="6.27" fill="#EEF8DE"/>
<rect x="403.09" y="255.47" width="27.61" height="6.27" fill="#EEF8DE"/>
<rect x="44.20" y="261.74" width="27.61" height="6.27" fill="#CBE5F0"/>
<rect x="71.81" y="261.74" width="27.61" height="6.27" fill="#FEFFC1"/>
<rect x="99.41" y="261.74" width="27.61" height="6.27" fill="#F8FCCC"/>
<rect x="127.02" y="261.74" width="27.61" height="6.27" fill="#9AC5DE"/>
<rect x="154.63" y="261.74" width="27.61" height="6.27" fill="#B3D5E7"/>
<rect x="182.24" y="261.74" width="27.61" height="6.27" fill="#ABD0E4"/>
<rect x="209.84" y="261.74" width="27.61" height="6.27" fill="#ABD0E4"/>
<rect x="237.45" y="261.74" width="27.61" height="6.27" fill="#FED88B"/>
<rect x="265.06" y="261.74" width="27.61" height="6.27" fill="#FECF85"/>
<rect x="292.66" y="261.74" width="27.61" height="6.27" fill="#FEE090"/>
<rect x="320.27" y="261.74" width="27.61" height="6.27" fill="#F8FCCC"/>
<rect x="347.88" y="261.74" width="27.61" height="6.27" fill="#F4FBD2"/>
<rect x="375.49" y="261.74" width="27.61" height="6.27" fill="#EEF8DE"/>
<rect x="403.09" y="261.74" width="27.61" height="6.27" fill="#EEF8DE"/>
<rect x="44.20" y="268.01" width="27.61" height="6.27" fill="#FEFFC1"/>
<rect x="71.81" y="268.01" width="27.61" height="6.27" fill="#F4FBD2"/>
<rect x="99.41" y="268.01" width="27.61" height="6.27" fill="#FFF6B2"/>
<rect x="127.02" y="268.01" width="27.61" height="6.27" fill="#73A2CC"/>
<rect x="154.63" y="268.01" width="27.61" height="6.27" fill="#B3D5E7"/>
<rect x="182.24" y="268.01" width="27.61" height="6.27" fill="#ABD0E4"/>
<rect x="209.84" y="268.01" width="27.61" height="6.27" fill="#ABD0E4"/>
<rect x="237.45" y="268.01" width="27.61" height="6.27" fill="#FED88B"/>
<rect x="265.06" y="268.01" width="27.61" height="6.27" fill="#FECF85"/>
<rect x="292.66" y="268.01" width="27.61" height="6.27" fill="#FEE090"/>
<rect x="320.27" y="268.01" width="27.61" height="6.27" fill="#F8FCCC"/>
<rect x="347.88" y="268.01" width="27.61" height="6.27" fill="#F8FCCC"/>
<rect x="375.49" y="268.01" width="27.61" height="6.27" fill="#F1FAD8"/>
<rect x="403.09" y="268.01" width="27.61" height="6.27" fill="#F4FBD2"/>
<rect x="44.20" y="274.28" width="27.61" height="6.27" fill="#FBFDC7"/>
<rect x="71.81" y="274.28" width="27.61" height="6.27" fill="#F4FBD2"/>
<rect x="99.41" y="274.28" width="27.61" height="6.27" fill="#FFFDBC"/>
<rect x="127.02" y="274.28" width="27.61" height="6.27" fill="#ABD0E4"/>
<rect x="154.63" y="274.28" width="27.61" height="6.27" fill="#83B1D4"/>
<rect x="182.24" y="274.28" width="27.61" height="6.27" fill="#ABD0E4"/>
<rect x="209.84" y="274.28" width="27.61" height="6.27" fill="#A3CBE1"/>
<rect x="237.45" y="274.28" width="27.61" height="6.27" fill="#FED88B"/>
<rect x="265.06" y="274.28" width="27.61" height="6.27" fill="#FECF85"/>
<rect x="292.66" y="274.28" width="27.61" height="6.27" fill="#FEE090"/>
<rect x="320.27" y="274.28" width="27.61" height="6.27" fill="#FBFDC7"/>
<rect x="347.88" y="274.28" width="27.61" height="6.27" fill="#FBFDC7"/>
<rect x="375.49" y="274.28" width="27.61" height="6.27" fill="#F1FAD8"/>
<rect x="403.09" y="274.28" width="27.61" height="6.27" fill="#F1FAD8"/>
<rect x="44.20" y="280.55" width="27.61" height="6.27" fill="#EEF8DE"/>
<rect x="71.81" y="280.55" width="27.61" height="6.27" fill="#FBFDC7"/>
<rect x="99.41" y="280.55" width="27.61" height="6.27" fill="#FFFDBC"/>
<rect x="127.02" y="280.55" width="27.61" height="6.27" fill="#ABD0E4"/>
<rect x="154.63" y="280.55" width="27.61" height="6.27" fill="#8AB9D8"/>
<rect x="182.24" y="280.55" width="27.61" height="6.27" fill="#ABD0E4"/>
<rect x="209.84" y="280.55" width="27.61" height="6.27" fill="#9AC5DE"/>
<rect x="237.45" y="280.55" width="27.61" height="6.27" fill="#FED88B"/>
<rect x="265.06" y="280.55" width="27.61" height="6.27" fill="#FECF85"/>
<rect x="292.66" y="280.55" width="27.61" height="6.27" fill="#FEE395"/>
<rect x="320.27" y="280.55" width="27.61" height="6.27" fill="#FFFDBC"/>
<rect x="347.88" y="280.55" width="27.61" height="6.27" fill="#FBFDC7"/>
<rect x="375.49" y="280.55" width="27.61" height="6.27" fill="#F4FBD2"/>
<rect x="403.09" y="280.55" width="27.61" height="6.27" fill="#F1FAD8"/>
<rect x="44.20" y="286.82" width="27.61" height="6.27" fill="#73A2CC"/>
<rect x="71.81" y="286.82" width="27.61" height="6.27" fill="#9AC5DE"/>
<rect x="99.41" y="286.82" width="27.61" height="6.27" fill="#CBE5F0"/>
<rect x="127.02" y="286.82" width="27.61" height="6.27" fill="#BBDBEA"/>
<rect x="154.63" y="286.82" width="27.61" height="6.27" fill="#E8F6EA"/>
<rect x="182.24" y="286.82" width="27.61" height="6.27" fill="#E8F6EA"/>
<rect x="209.84" y="286.82" width="27.61" height="6.27" fill="#B3D5E7"/>
<rect x="237.45" y="286.82" width="27.61" height="6.27" fill="#FEFFC1"/>
<rect x="265.06" y="286.82" width="27.61" height="6.27" fill="#FEE090"/>
<rect x="292.66" y="286.82" width="27.61" height="6.27" fill="#FFF0A8"/>
<rect x="320.27" y="286.82" width="27.61" height="6.27" fill="#FFF0A8"/>
<rect x="347.88" y="286.82" width="27.61" height="6.27" fill="#FBFDC7"/>
<rect x="375.49" y="286.82" width="27.61" height="6.27" fill="#FEE69A"/>
<rect x="403.09" y="286.82" width="27.61" height="6.27" fill="#FEEDA3"/>
<rect x="44.20" y="293.09" width="27.61" height="6.27" fill="#4575B4"/>
<rect x="71.81" y="293.09" width="27.61" height="6.27" fill="#B3D5E7"/>
<rect x="99.41" y="293.09" width="27.61" height="6.27" fill="#E8F6EA"/>
<rect x="127.02" y="293.09" width="27.61" height="6.27" fill="#FEFFC1"/>
<rect x="154.63" y="293.09" width="27.61" height="6.27" fill="#FBFDC7"/>
<rect x="182.24" y="293.09" width="27.61" height="6.27" fill="#E8F6EA"/>
<rect x="209.84" y="293.09" width="27.61" height="6.27" fill="#8AB9D8"/>
<rect x="237.45" y="293.09" width="27.61" height="6.27" fill="#FFF0A8"/>
<rect x="265.06" y="293.09" width="27.61" height="6.27" fill="#FED88B"/>
<rect x="292.66" y="293.09" width="27.61" height="6.27" fill="#FFF0A8"/>
<rect x="320.27" y="293.09" width="27.61" height="6.27" fill="#FFF0A8"/>
<rect x="347.88" y="293.09" width="27.61" height="6.27" fill="#FEEA9F"/>
<rect x="375.49" y="293.09" width="27.61" height="6.27" fill="#FEEDA3"/>
<rect x="403.09" y="293.09" width="27.61" height="6.27" fill="#FFF0A8"/>
<rect x="44.20" y="299.36" width="27.61" height="6.27" fill="#ABD0E4"/>
<rect x="71.81" y="299.36" width="27.61" height="6.27" fill="#E8F6EA"/>
<rect x="99.41" y="299.36" width="27.61" height="6.27" fill="#BBDBEA"/>
<rect x="127.02" y="299.36" width="27.61" height="6.27" fill="#ABD0E4"/>
<rect x="154.63" y="299.36" width="27.61" height="6.27" fill="#A3CBE1"/>
<rect x="182.24" y="299.36" width="27.61" height="6.27" fill="#B3D5E7"/>
<rect x="209.84" y="299.36" width="27.61" height="6.27" fill="#ABD0E4"/>
<rect x="237.45" y="299.36" width="27.61" height="6.27" fill="#FEEDA3"/>
<rect x="265.06" y="299.36" width="27.61" height="6.27" fill="#FEE090"/>
<rect x="292.66" y="299.36" width="27.61" height="6.27" fill="#FFF0A8"/>
<rect x="320.27" y="299.36" width="27.61" height="6.27" fill="#FEEA9F"/>
<rect x="347.88" y="299.36" width="27.61" height="6.27" fill="#FFF3AD"/>
<rect x="375.49" y="299.36" width="27.61" height="6.27" fill="#FFF6B2"/>
<rect x="403.09" y="299.36" width="27.61" height="6.27" fill="#FFF3AD"/>
<rect x="44.20" y="305.63" width="27.61" height="6.27" fill="#83B1D4"/>
<rect x="71.81" y="305.63" width="27.61" height="6.27" fill="#E8F6EA"/>
<rect x="99.41" y="305.63" width="27.61" height="6.27" fill="#BBDBEA"/>
<rect x="127.02" y="305.63" width="27.61" height="6.27" fill="#E1F4F5"/>
<rect x="154.63" y="305.63" width="27.61" height="6.27" fill="#ABD0E4"/>
<rect x="182.24" y="305.63" width="27.61" height="6.27" fill="#B3D5E7"/>
<rect x="209.84" y="305.63" width="27.61" height="6.27" fill="#ABD0E4"/>
<rect x="237.45" y="305.63" width="27.61" height="6.27" fill="#FEEDA3"/>
<rect x="265.06" y="305.63" width="27.61" height="6.27" fill="#FEE090"/>
<rect x="292.66" y="305.63" width="27.61" height="6.27" fill="#FEEDA3"/>
<rect x="320.27" y="305.63" width="27.61" height="6.27" fill="#FEEDA3"/>
<rect x="347.88" y="305.63" width="27.61" height="6.27" fill="#FFF3AD"/>
<rect x="375.49" y="305.63" width="27.61" height="6.27" fill="#FFF3AD"/>
<rect x="403.09" y="305.63" width="27.61" height="6.27" fill="#FEE69A"/>
<rect x="44.20" y="311.90" width="27.61" height="6.27" fill="#ABD0E4"/>
<rect x="71.81" y="311.90" width="27.61" height="6.27" fill="#8AB9D8"/>
<rect x="99.41" y="311.90" width="27.61" height="6.27" fill="#BBDBEA"/>
<rect x="127.02" y="311.90" width="27.61" height="6.27" fill="#D3EBF3"/>
<rect x="154.63" y="311.90" width="27.61" height="6.27" fill="#B3D5E7"/>
<rect x="182.24" y="311.90" width="27.61" height="6.27" fill="#CBE5F0"/>
<rect x="209.84" y="311.90" width="27.61" height="6.27" fill="#CBE5F0"/>
<rect x="237.45" y="311.90" width="27.61" height="6.27" fill="#FEE395"/>
<rect x="265.06" y="311.90" width="27.61" height="6.27" fill="#FEE395"/>
<rect x="292.66" y="311.90" width="27.61" height="6.27" fill="#FEE395"/>
<rect x="320.27" y="311.90" width="27.61" height="6.27" fill="#FEEDA3"/>
<rect x="347.88" y="311.90" width="27.61" height="6.27" fill="#FEEDA3"/>
<rect x="375.49" y="311.90" width="27.61" height="6.27" fill="#FFF6B2"/>
<rect x="403.09" y="311.90" width="27.61" height="6.27" fill="#FEEDA3"/>
<rect x="44.20" y="318.17" width="27.61" height="6.27" fill="#D3EBF3"/>
<rect x="71.81" y="318.17" width="27.61" height="6.27" fill="#8AB9D8"/>
<rect x="99.41" y="318.17" width="27.61" height="6.27" fill="#E1F4F5"/>
<rect x="127.02" y="318.17" width="27.61" height="6.27" fill="#E1F4F5"/>
<rect x="154.63" y="318.17" width="27.61" height="6.27" fill="#83B1D4"/>
<rect x="182.24" y="318.17" width="27.61" height="6.27" fill="#D3EBF3"/>
<rect x="209.84" y="318.17" width="27.61" height="6.27" fill="#D3EBF3"/>
<rect x="237.45" y="318.17" width="27.61" height="6.27" fill="#FEE69A"/>
<rect x="265.06" y="318.17" width="27.61" height="6.27" fill="#FEEA9F"/>
<rect x="292.66" y="318.17" width="27.61" height="6.27" fill="#FEEA9F"/>
<rect x="320.27" y="318.17" width="27.61" height="6.27" fill="#FEEDA3"/>
<rect x="347.88" y="318.17" width="27.61" height="6.27" fill="#FEEDA3"/>
<rect x="375.49" y="318.17" width="27.61" height="6.27" fill="#F8FCCC"/>
<rect x="403.09" y="318.17" width="27.61" height="6.27" fill="#FFF0A8"/>
<rect x="44.20" y="324.44" width="27.61" height="6.27" fill="#EEF8DE"/>
<rect x="71.81" y="324.44" width="27.61" height="6.27" fill="#EEF8DE"/>
<rect x="99.41" y="324.44" width="27.61" height="6.27" fill="#E8F6EA"/>
<rect x="127.02" y="324.44" width="27.61" height="6.27" fill="#E8F6EA"/>
<rect x="154.63" y="324.44" width="27.61" height="6.27" fill="#E8F6EA"/>
<rect x="182.24" y="324.44" width="27.61" height="6.27" fill="#E8F6EA"/>
<rect x="209.84" y="324.44" width="27.61" height="6.27" fill="#E8F6EA"/>
<rect x="237.45" y="324.44" width="27.61" height="6.27" fill="#E1F4F5"/>
<rect x="265.06" y="324.44" width="27.61" height="6.27" fill="#E8F6EA"/>
<rect x="292.66" y="324.44" width="27.61" height="6.27" fill="#E8F6EA"/>
<rect x="320.27" y="324.44" width="27.61" height="6.27" fill="#D9352A"/>
<rect x="347.88" y="324.44" width="27.61" height="6.27" fill="#E5F5F0"/>
<rect x="375.49" y="324.44" width="27.61" height="6.27" fill="#E5F5F0"/>
<rect x="403.09" y="324.44" width="27.61" height="6.27" fill="#E5F5F0"/>
<rect x="44.20" y="330.71" width="27.61" height="6.27" fill="#ABD0E4"/>
<rect x="71.81" y="330.71" width="27.61" height="6.27" fill="#73A2CC"/>
<rect x="99.41" y="330.71" width="27.61" height="6.27" fill="#ABD0E4"/>
<rect x="127.02" y="330.71" width="27.61" height="6.27" fill="#F8FCCC"/>
<rect x="154.63" y="330.71" width="27.61" height="6.27" fill="#CBE5F0"/>
<rect x="182.24" y="330.71" width="27.61" height="6.27" fill="#DBF0F6"/>
<rect x="209.84" y="330.71" width="27.61" height="6.27" fill="#E1F4F5"/>
<rect x="237.45" y="330.71" width="27.61" height="6.27" fill="#FEE395"/>
<rect x="265.06" y="330.71" width="27.61" height="6.27" fill="#FEFFC1"/>
<rect x="292.66" y="330.71" width="27.61" height="6.27" fill="#F8FCCC"/>
<rect x="320.27" y="330.71" width="27.61" height="6.27" fill="#FFF6B2"/>
<rect x="347.88" y="330.71" width="27.61" height="6.27" fill="#FDBE7A"/>
<rect x="375.49" y="330.71" width="27.61" height="6.27" fill="#FFF6B2"/>
<rect x="403.09" y="330.71" width="27.61" height="6.27" fill="#FEE69A"/>
<rect x="44.20" y="336.98" width="27.61" height="6.27" fill="#6393C4"/>
<rect x="71.81" y="336.98" width="27.61" height="6.27" fill="#73A2CC"/>
<rect x="99.41" y="336.98" width="27.61" height="6.27" fill="#E1F4F5"/>
<rect x="127.02" y="336.98" width="27.61" height="6.27" fill="#F8FCCC"/>
<rect x="154.63" y="336.98" width="27.61" height="6.27" fill="#DBF0F6"/>
<rect x="182.24" y="336.98" width="27.61" height="6.27" fill="#EEF8DE"/>
<rect x="209.84" y="336.98" width="27.61" height="6.27" fill="#FFFDBC"/>
<rect x="237.45" y="336.98" width="27.61" height="6.27" fill="#FEE090"/>
<rect x="265.06" y="336.98" width="27.61" height="6.27" fill="#E5F5F0"/>
<rect x="292.66" y="336.98" width="27.61" height="6.27" fill="#F4FBD2"/>
<rect x="320.27" y="336.98" width="27.61" height="6.27" fill="#FFF0A8"/>
<rect x="347.88" y="336.98" width="27.61" height="6.27" fill="#FEEA9F"/>
<rect x="375.49" y="336.98" width="27.61" height="6.27" fill="#FEE69A"/>
<rect x="403.09" y="336.98" width="27.61" height="6.27" fill="#FFF3AD"/>
<rect x="44.20" y="343.25" width="27.61" height="6.27" fill="#A3CBE1"/>
<rect x="71.81" y="343.25" width="27.61" height="6.27" fill="#BBDBEA"/>
<rect x="99.41" y="343.25" width="27.61" height="6.27" fill="#ABD0E4"/>
<rect x="127.02" y="343.25" width="27.61" height="6.27" fill="#FFFDBC"/>
<rect x="154.63" y="343.25" width="27.61" height="6.27" fill="#E1F4F5"/>
<rect x="182.24" y="343.25" width="27.61" height="6.27" fill="#FFFDBC"/>
<rect x="209.84" y="343.25" width="27.61" height="6.27" fill="#F1FAD8"/>
<rect x="237.45" y="343.25" width="27.61" height="6.27" fill="#ABD0E4"/>
<rect x="265.06" y="343.25" width="27.61" height="6.27" fill="#E1F4F5"/>
<rect x="292.66" y="343.25" width="27.61" height="6.27" fill="#E8F6EA"/>
<rect x="320.27" y="343.25" width="27.61" height="6.27" fill="#FFF0A8"/>
<rect x="347.88" y="343.25" width="27.61" height="6.27" fill="#FDA569"/>
<rect x="375.49" y="343.25" width="27.61" height="6.27" fill="#FFF6B2"/>
<rect x="403.09" y="343.25" width="27.61" height="6.27" fill="#FEEA9F"/>
<rect x="44.20" y="349.52" width="27.61" height="6.27" fill="#ABD0E4"/>
<rect x="71.81" y="349.52" width="27.61" height="6.27" fill="#A3CBE1"/>
<rect x="99.41" y="349.52" width="27.61" height="6.27" fill="#A3CBE1"/>
<rect x="127.02" y="349.52" width="27.61" height="6.27" fill="#F8FCCC"/>
<rect x="154.63" y="349.52" width="27.61" height="6.27" fill="#F8FCCC"/>
<rect x="182.24" y="349.52" width="27.61" height="6.27" fill="#F8FCCC"/>
<rect x="209.84" y="349.52" width="27.61" height="6.27" fill="#F4FBD2"/>
<rect x="237.45" y="349.52" width="27.61" height="6.27" fill="#DBF0F6"/>
<rect x="265.06" y="349.52" width="27.61" height="6.27" fill="#EBF7E4"/>
<rect x="292.66" y="349.52" width="27.61" height="6.27" fill="#BBDBEA"/>
<rect x="320.27" y="349.52" width="27.61" height="6.27" fill="#FFF0A8"/>
<rect x="347.88" y="349.52" width="27.61" height="6.27" fill="#F78153"/>
<rect x="375.49" y="349.52" width="27.61" height="6.27" fill="#FFFAB7"/>
<rect x="403.09" y="349.52" width="27.61" height="6.27" fill="#FEE69A"/>
<rect x="44.20" y="355.79" width="27.61" height="6.27" fill="#CBE5F0"/>
<rect x="71.81" y="355.79" width="27.61" height="6.27" fill="#6393C4"/>
<rect x="99.41" y="355.79" width="27.61" height="6.27" fill="#BBDBEA"/>
<rect x="127.02" y="355.79" width="27.61" height="6.27" fill="#FEFFC1"/>
<rect x="154.63" y="355.79" width="27.61" height="6.27" fill="#CBE5F0"/>
<rect x="182.24" y="355.79" width="27.61" height="6.27" fill="#BBDBEA"/>
<rect x="209.84" y="355.79" width="27.61" height="6.27" fill="#EEF8DE"/>
<rect x="237.45" y="355.79" width="27.61" height="6.27" fill="#E5F5F0"/>
<rect x="265.06" y="355.79" width="27.61" height="6.27" fill="#EEF8DE"/>
<rect x="292.66" y="355.79" width="27.61" height="6.27" fill="#FFFAB7"/>
<rect x="320.27" y="355.79" width="27.61" height="6.27" fill="#FEE090"/>
<rect x="347.88" y="355.79" width="27.61" height="6.27" fill="#FEE090"/>
<rect x="375.49" y="355.79" width="27.61" height="6.27" fill="#FEEDA3"/>
<rect x="403.09" y="355.79" width="27.61" height="6.27" fill="#FEEDA3"/>
<rect x="44.20" y="362.06" width="27.61" height="6.27" fill="#ABD0E4"/>
<rect x="71.81" y="362.06" width="27.61" height="6.27" fill="#A3CBE1"/>
<rect x="99.41" y="362.06" width="27.61" height="6.27" fill="#83B1D4"/>
<rect x="127.02" y="362.06" width="27.61" height="6.27" fill="#FFF0A8"/>
<rect x="154.63" y="362.06" width="27.61" height="6.27" fill="#CBE5F0"/>
<rect x="182.24" y="362.06" width="27.61" height="6.27" fill="#F4FBD2"/>
<rect x="209.84" y="362.06" width="27.61" height="6.27" fill="#F1FAD8"/>
<rect x="237.45" y="362.06" width="27.61" height="6.27" fill="#DBF0F6"/>
<rect x="265.06" y="362.06" width="27.61" height="6.27" fill="#E5F5F0"/>
<rect x="292.66" y="362.06" width="27.61" height="6.27" fill="#FFFAB7"/>
<rect x="320.27" y="362.06" width="27.61" height="6.27" fill="#FEE090"/>
<rect x="347.88" y="362.06" width="27.61" height="6.27" fill="#FED88B"/>
<rect x="375.49" y="362.06" width="27.61" height="6.27" fill="#FEEDA3"/>
<rect x="403.09" y="362.06" width="27.61" height="6.27" fill="#FEEDA3"/>
<rect x="44.20" y="368.33" width="27.61" height="6.27" fill="#DBF0F6"/>
<rect x="71.81" y="368.33" width="27.61" height="6.27" fill="#BBDBEA"/>
<rect x="99.41" y="368.33" width="27.61" height="6.27" fill="#83B1D4"/>
<rect x="127.02" y="368.33" width="27.61" height="6.27" fill="#FFFDBC"/>
<rect x="154.63" y="368.33" width="27.61" height="6.27" fill="#DBF0F6"/>
<rect x="182.24" y="368.33" width="27.61" height="6.27" fill="#F1FAD8"/>
<rect x="209.84" y="368.33" width="27.61" height="6.27" fill="#F1FAD8"/>
<rect x="237.45" y="368.33" width="27.61" height="6.27" fill="#BBDBEA"/>
<rect x="265.06" y="368.33" width="27.61" height="6.27" fill="#8AB9D8"/>
<rect x="292.66" y="368.33" width="27.61" height="6.27" fill="#FFF6B2"/>
<rect x="320.27" y="368.33" width="27.61" height="6.27" fill="#FED88B"/>
<rect x="347.88" y="368.33" width="27.61" height="6.27" fill="#FEE69A"/>
<rect x="375.49" y="368.33" width="27.61" height="6.27" fill="#FFF0A8"/>
<rect x="403.09" y="368.33" width="27.61" height="6.27" fill="#FFF0A8"/>
<path d="M44.20 61.10V374.60M71.81 61.10V374.60M99.41 61.10V374.60M127.02 61.10V374.60M154.63 61.10V374.60M182.24 61.10V374.60M209.84 61.10V374.60M237.45 61.10V374.60M265.06 61.10V374.60M292.66 61.10V374.60M320.27 61.10V374.60M347.88 61.10V374.60M375.49 61.10V374.60M403.09 61.10V374.60M430.70 61.10V374.60M44.20 61.10H430.70M44.20 67.37H430.70M44.20 73.64H430.70M44.20 79.91H430.70M44.20 86.18H430.70M44.20 92.45H430.70M44.20 98.72H430.70M44.20 104.99H430.70M44.20 111.26H430.70M44.20 117.53H430.70M44.20 123.80H430.70M44.20 130.07H430.70M44.20 136.34H430.70M44.20 142.61H430.70M44.20 148.88H430.70M44.20 155.15H430.70M44.20 161.42H430.70M44.20 167.69H430.70M44.20 173.96H430.70M44.20 180.23H430.70M44.20 186.50H430.70M44.20 192.77H430.70M44.20 199.04H430.70M44.20 205.31H430.70M44.20 211.58H430.70M44.20 217.85H430.70M44.20 224.12H430.70M44.20 230.39H430.70M44.20 236.66H430.70M44.20 242.93H430.70M44.20 249.20H430.70M44.20 255.47H430.70M44.20 261.74H430.70M44.20 268.01H430.70M44.20 274.28H430.70M44.20 280.55H430.70M44.20 286.82H430.70M44.20 293.09H430.70M44.20 299.36H430.70M44.20 305.63H430.70M44.20 311.90H430.70M44.20 318.17H430.70M44.20 324.44H430.70M44.20 330.71H430.70M44.20 336.98H430.70M44.20 343.25H430.70M44.20 349.52H430.70M44.20 355.79H430.70M44.20 362.06H430.70M44.20 368.33H430.70M44.20 374.60H430.70" stroke="#959595" stroke-width="0.55" fill="none"/>
<rect x="44.20" y="45.0" width="27.61" height="5.20" fill="#1FCDE0" stroke="#959595" stroke-width="0.55"/>
<rect x="44.20" y="52.3" width="27.61" height="4.60" fill="#8AC400" stroke="#959595" stroke-width="0.55"/>
<rect x="71.81" y="45.0" width="27.61" height="5.20" fill="#1FCDE0" stroke="#959595" stroke-width="0.55"/>
<rect x="71.81" y="52.3" width="27.61" height="4.60" fill="#8AC400" stroke="#959595" stroke-width="0.55"/>
<rect x="99.41" y="45.0" width="27.61" height="5.20" fill="#1FCDE0" stroke="#959595" stroke-width="0.55"/>
<rect x="99.41" y="52.3" width="27.61" height="4.60" fill="#8AC400" stroke="#959595" stroke-width="0.55"/>
<rect x="127.02" y="45.0" width="27.61" height="5.20" fill="#DE90F2" stroke="#959595" stroke-width="0.55"/>
<rect x="127.02" y="52.3" width="27.61" height="4.60" fill="#8AC400" stroke="#959595" stroke-width="0.55"/>
<rect x="154.63" y="45.0" width="27.61" height="5.20" fill="#DE90F2" stroke="#959595" stroke-width="0.55"/>
<rect x="154.63" y="52.3" width="27.61" height="4.60" fill="#8AC400" stroke="#959595" stroke-width="0.55"/>
<rect x="182.24" y="45.0" width="27.61" height="5.20" fill="#DE90F2" stroke="#959595" stroke-width="0.55"/>
<rect x="182.24" y="52.3" width="27.61" height="4.60" fill="#8AC400" stroke="#959595" stroke-width="0.55"/>
<rect x="209.84" y="45.0" width="27.61" height="5.20" fill="#DE90F2" stroke="#959595" stroke-width="0.55"/>
<rect x="209.84" y="52.3" width="27.61" height="4.60" fill="#8AC400" stroke="#959595" stroke-width="0.55"/>
<rect x="237.45" y="45.0" width="27.61" height="5.20" fill="#1FCDE0" stroke="#959595" stroke-width="0.55"/>
<rect x="237.45" y="52.3" width="27.61" height="4.60" fill="#F9907F" stroke="#959595" stroke-width="0.55"/>
<rect x="265.06" y="45.0" width="27.61" height="5.20" fill="#1FCDE0" stroke="#959595" stroke-width="0.55"/>
<rect x="265.06" y="52.3" width="27.61" height="4.60" fill="#F9907F" stroke="#959595" stroke-width="0.55"/>
<rect x="292.66" y="45.0" width="27.61" height="5.20" fill="#1FCDE0" stroke="#959595" stroke-width="0.55"/>
<rect x="292.66" y="52.3" width="27.61" height="4.60" fill="#F9907F" stroke="#959595" stroke-width="0.55"/>
<rect x="320.27" y="45.0" width="27.61" height="5.20" fill="#DE90F2" stroke="#959595" stroke-width="0.55"/>
<rect x="320.27" y="52.3" width="27.61" height="4.60" fill="#F9907F" stroke="#959595" stroke-width="0.55"/>
<rect x="347.88" y="45.0" width="27.61" height="5.20" fill="#DE90F2" stroke="#959595" stroke-width="0.55"/>
<rect x="347.88" y="52.3" width="27.61" height="4.60" fill="#F9907F" stroke="#959595" stroke-width="0.55"/>
<rect x="375.49" y="45.0" width="27.61" height="5.20" fill="#DE90F2" stroke="#959595" stroke-width="0.55"/>
<rect x="375.49" y="52.3" width="27.61" height="4.60" fill="#F9907F" stroke="#959595" stroke-width="0.55"/>
<rect x="403.09" y="45.0" width="27.61" height="5.20" fill="#DE90F2" stroke="#959595" stroke-width="0.55"/>
<rect x="403.09" y="52.3" width="27.61" height="4.60" fill="#F9907F" stroke="#959595" stroke-width="0.55"/>
<path d="M85.61 44.20V31.50H113.22V44.20M58.00 44.20V29.70H99.41V31.50M196.04 44.20V35.30H223.65V44.20M168.43 44.20V31.60H209.84V35.30M140.82 44.20V20.70H189.14V31.60M78.71 29.70V16.00H164.98V20.70M278.86 44.20V34.50H306.47V44.20M251.25 44.20V32.00H292.66V34.50M389.29 44.20V34.50H416.90V44.20M361.68 44.20V31.30H403.09V34.50M334.07 44.20V27.30H382.39V31.30M271.96 32.00V15.60H358.23V27.30M121.85 16.00V3.30H315.10V15.60" stroke="#3A3A3A" stroke-width="0.9" fill="none"/>
<path d="M44.20 64.23H37.50V70.50H44.20M44.20 83.05H35.60V89.31H44.20M44.20 76.78H33.40V86.18H35.60M44.20 95.59H35.30V101.85H44.20M44.20 108.12H37.50V114.39H44.20M44.20 126.94H39.70V133.20H44.20M44.20 120.66H37.50V130.07H39.70M37.50 111.26H35.60V125.37H37.50M35.30 98.72H32.30V118.31H35.60M33.40 81.48H29.50V108.52H32.30M37.50 67.37H24.30V95.00H29.50M44.20 152.01H35.30V158.28H44.20M44.20 145.75H32.50V155.15H35.30M44.20 139.47H30.10V150.45H32.50M44.20 164.56H30.50V170.82H44.20M44.20 183.36H32.30V189.63H44.20M44.20 177.09H29.70V186.50H32.30M30.50 167.69H24.00V181.80H29.70M30.10 144.96H23.10V174.74H24.00M44.20 202.17H26.20V208.44H44.20M44.20 195.90H22.40V205.31H26.20M23.10 159.85H18.80V200.61H22.40M24.30 81.18H10.30V180.23H18.80M44.20 220.98H37.40V227.25H44.20M44.20 233.52H41.40V239.79H44.20M44.20 246.06H41.40V252.33H44.20M41.40 236.66H39.70V249.20H41.40M44.20 258.61H40.30V264.88H44.20M44.20 277.42H40.30V283.69H44.20M44.20 271.14H37.40V280.55H40.30M40.30 261.74H36.10V275.85H37.40M39.70 242.93H35.30V268.79H36.10M37.40 224.12H30.60V255.86H35.30M44.20 214.71H29.50V239.99H30.60M44.20 289.95H33.60V296.22H44.20M44.20 302.50H36.60V308.76H44.20M44.20 315.03H35.80V321.31H44.20M36.60 305.63H33.60V318.17H35.80M33.60 293.09H27.10V311.90H33.60M29.50 227.35H19.60V302.50H27.10M44.20 333.85H31.40V340.12H44.20M44.20 346.38H37.50V352.66H44.20M44.20 365.19H34.50V371.46H44.20M44.20 358.93H31.40V368.33H34.50M37.50 349.52H27.50V363.63H31.40M31.40 336.98H24.00V356.57H27.50M44.20 327.57H16.10V346.78H24.00M19.60 264.92H8.30V337.18H16.10M10.30 130.71H3.50V301.05H8.30" stroke="#3A3A3A" stroke-width="0.9" fill="none"/>
<g font-family='"Liberation Sans", sans-serif' font-size="6.3" fill="#111111" stroke="#111111" stroke-width="0.12" transform="translate(0,0.8)">
<text x="434.7" y="64.23" dominant-baseline="central">RGS2</text>
<text x="434.7" y="70.50" dominant-baseline="central">ALDH1A1</text>
<text x="434.7" y="76.78" dominant-baseline="central">TGM2</text>
<text x="434.7" y="83.05" dominant-baseline="central">ACTA2</text>
<text x="434.7" y="89.31" dominant-baseline="central">PTGER2</text>
<text x="434.7" y="95.59" dominant-baseline="central">PCDH18</text>
<text x="434.7" y="101.85" dominant-baseline="central">PDZRN3</text>
<text x="434.7" y="108.12" dominant-baseline="central">FN1</text>
<text x="434.7" y="114.39" dominant-baseline="central">HOPX</text>
<text x="434.7" y="120.66" dominant-baseline="central">NINJ2-AS1</text>
<text x="434.7" y="126.94" dominant-baseline="central">APLNR</text>
<text x="434.7" y="133.20" dominant-baseline="central">GDNF</text>
<text x="434.7" y="139.47" dominant-baseline="central">MYH11</text>
<text x="434.7" y="145.75" dominant-baseline="central">ACTA1</text>
<text x="434.7" y="152.01" dominant-baseline="central">ABCG1</text>
<text x="434.7" y="158.28" dominant-baseline="central">IFIT2</text>
<text x="434.7" y="164.56" dominant-baseline="central">MACROD1</text>
<text x="434.7" y="170.82" dominant-baseline="central">LRRC23</text>
<text x="434.7" y="177.09" dominant-baseline="central">CRHBP</text>
<text x="434.7" y="183.36" dominant-baseline="central">MLIP</text>
<text x="434.7" y="189.63" dominant-baseline="central">MYH2</text>
<text x="434.7" y="195.90" dominant-baseline="central">TGFB2</text>
<text x="434.7" y="202.17" dominant-baseline="central">PHYHD1</text>
<text x="434.7" y="208.44" dominant-baseline="central">ENSG00000272523.2</text>
<text x="434.7" y="214.71" dominant-baseline="central">VPS50</text>
<text x="434.7" y="220.98" dominant-baseline="central">LDLR</text>
<text x="434.7" y="227.25" dominant-baseline="central">SQLE</text>
<text x="434.7" y="233.52" dominant-baseline="central">INSIG1</text>
<text x="434.7" y="239.79" dominant-baseline="central">SCD</text>
<text x="434.7" y="246.06" dominant-baseline="central">IDI1</text>
<text x="434.7" y="252.33" dominant-baseline="central">SC5D</text>
<text x="434.7" y="258.61" dominant-baseline="central">CYP51A1</text>
<text x="434.7" y="264.88" dominant-baseline="central">MVD</text>
<text x="434.7" y="271.14" dominant-baseline="central">DHCR7</text>
<text x="434.7" y="277.42" dominant-baseline="central">HMGCR</text>
<text x="434.7" y="283.69" dominant-baseline="central">HMGCS1</text>
<text x="434.7" y="289.95" dominant-baseline="central">HSD17B7</text>
<text x="434.7" y="296.22" dominant-baseline="central">CYLD</text>
<text x="434.7" y="302.50" dominant-baseline="central">ACAT2</text>
<text x="434.7" y="308.76" dominant-baseline="central">LSS</text>
<text x="434.7" y="315.03" dominant-baseline="central">TMEM97</text>
<text x="434.7" y="321.31" dominant-baseline="central">TEX261</text>
<text x="434.7" y="327.57" dominant-baseline="central">LOC102724843</text>
<text x="434.7" y="333.85" dominant-baseline="central">VWF</text>
<text x="434.7" y="340.12" dominant-baseline="central">PCDHA2</text>
<text x="434.7" y="346.38" dominant-baseline="central">PAX2</text>
<text x="434.7" y="352.66" dominant-baseline="central">VSX2</text>
<text x="434.7" y="358.93" dominant-baseline="central">LZTFL1</text>
<text x="434.7" y="365.19" dominant-baseline="central">KLF4</text>
<text x="434.7" y="371.46" dominant-baseline="central">PLA2G3</text>
<text x="434.7" y="47.60" dominant-baseline="central">Batch</text>
<text x="434.7" y="54.60" dominant-baseline="central">Condition</text>
</g>
<g font-family='"Liberation Sans", sans-serif' font-size="6.0" fill="#111111" stroke="#111111" stroke-width="0.05">
<text transform="translate(59.30,379.1) rotate(-90)" text-anchor="end" dominant-baseline="central">GE7263_17_CFZ_7254_S206</text>
<text transform="translate(86.91,379.1) rotate(-90)" text-anchor="end" dominant-baseline="central">GE7263_16_CFZ_7253_S205</text>
<text transform="translate(114.52,379.1) rotate(-90)" text-anchor="end" dominant-baseline="central">GE7263_18_CFZ_7-255_S-207</text>
<text transform="translate(142.12,379.1) rotate(-90)" text-anchor="end" dominant-baseline="central">R1-CFZ-01_S5_L006</text>
<text transform="translate(169.73,379.1) rotate(-90)" text-anchor="end" dominant-baseline="central">R2-CFZ-01_S6_L006</text>
<text transform="translate(197.34,379.1) rotate(-90)" text-anchor="end" dominant-baseline="central">R3-CFZ-01_S7_L006</text>
<text transform="translate(224.95,379.1) rotate(-90)" text-anchor="end" dominant-baseline="central">R4-CFZ-01_S8_L006</text>
<text transform="translate(252.55,379.1) rotate(-90)" text-anchor="end" dominant-baseline="central">GE7263_11_CFZStatin_7-251_S-203</text>
<text transform="translate(280.16,379.1) rotate(-90)" text-anchor="end" dominant-baseline="central">GE7263_10_CFZStatin_7250_S-202</text>
<text transform="translate(307.77,379.1) rotate(-90)" text-anchor="end" dominant-baseline="central">GE7263_12_CFZStatin_7-252_S-204</text>
<text transform="translate(335.38,379.1) rotate(-90)" text-anchor="end" dominant-baseline="central">R1-CFZStatin-01_S13_L006</text>
<text transform="translate(362.98,379.1) rotate(-90)" text-anchor="end" dominant-baseline="central">R4-CFZStatin-01_S16_L006</text>
<text transform="translate(390.59,379.1) rotate(-90)" text-anchor="end" dominant-baseline="central">R2-CFZStatin-01_S14_L006</text>
<text transform="translate(418.20,379.1) rotate(-90)" text-anchor="end" dominant-baseline="central">R3-CFZStatin-01_S15_L006</text>
</g>
<defs><linearGradient id="lg" x1="0" y1="1" x2="0" y2="0"><stop offset="0.0000" stop-color="#4575B4"/><stop offset="0.1667" stop-color="#91BFDB"/><stop offset="0.3333" stop-color="#E0F3F8"/><stop offset="0.5000" stop-color="#FFFFBF"/><stop offset="0.6667" stop-color="#FEE090"/><stop offset="0.8333" stop-color="#FC8D59"/><stop offset="1.0000" stop-color="#D73027"/></linearGradient></defs>
<rect x="506.7" y="45.0" width="8.20" height="119.50" fill="url(#lg)"/>
<g font-family='"Liberation Sans", sans-serif' font-size="6.3" fill="#111111" stroke="#111111" stroke-width="0.12" transform="translate(0,0.8)">
<text x="518.9" y="54.21" dominant-baseline="central">3</text>
<text x="518.9" y="74.67" dominant-baseline="central">2</text>
<text x="518.9" y="95.13" dominant-baseline="central">1</text>
<text x="518.9" y="115.60" dominant-baseline="central">0</text>
<text x="518.9" y="136.06" dominant-baseline="central">−1</text>
<text x="518.9" y="156.52" dominant-baseline="central">−2</text>
</g>
<g font-family='"Liberation Sans", sans-serif' font-size="6.3" fill="#111111" stroke="#111111" stroke-width="0.12" transform="translate(0,0.8)">
<text x="507" y="175.5" dominant-baseline="central">Batch</text>
<rect x="507" y="182.40" width="8.3" height="7.7" fill="#1FCDE0"/>
<text x="519.4" y="187" dominant-baseline="central">Batch 1</text>
<rect x="507" y="196.30" width="8.3" height="7.7" fill="#DE90F2"/>
<text x="519.4" y="201" dominant-baseline="central">Batch 2</text>
<text x="507" y="212" dominant-baseline="central">Condition</text>
<rect x="507" y="218.00" width="8.3" height="7.9" fill="#8AC400"/>
<text x="519.4" y="222.7" dominant-baseline="central">CFZ</text>
<rect x="507" y="232.50" width="8.3" height="7.9" fill="#F9907F"/>
<text x="519.4" y="237.2" dominant-baseline="central">CFZStatin</text>
</g>
</svg>
</body></html>
